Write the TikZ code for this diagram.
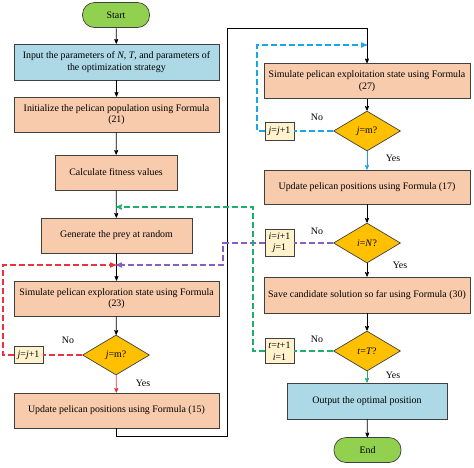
\documentclass[tikz,border=0pt]{standalone}
\usepackage{fontspec}
\setmainfont{Liberation Serif}
\usepackage{tikz}
\usetikzlibrary{arrows, shapes.geometric, positioning}

\definecolor{boxblue}{RGB}{173,216,230}
\definecolor{boxpeach}{RGB}{248,203,173}
\definecolor{boxgold}{RGB}{255,192,0}
\definecolor{boxgreen}{RGB}{146,208,80}
\definecolor{boxcream}{RGB}{255,242,204}
\definecolor{lred}{RGB}{235,50,65}
\definecolor{lgreen}{RGB}{30,175,110}
\definecolor{lpurple}{RGB}{135,95,195}
\definecolor{lcyan}{RGB}{25,165,230}

\begin{document}
\begin{tikzpicture}[->,>=stealth',x=1pt,y=-1pt,line width=0.7pt]
    \tikzstyle{every node}=[font=\fontsize{9.9}{11.5}\selectfont, text=black]
    \tikzstyle{term}=[shape=rectangle, rounded corners=12pt, fill=boxgreen, draw=black!75, minimum width=67pt, minimum height=25pt]
    \tikzstyle{proc}=[shape=rectangle, fill=boxpeach, draw=black!75, minimum height=35pt, align=center, inner sep=1pt]
    \tikzstyle{io}=[shape=rectangle, fill=boxblue, draw=black!75, minimum height=36pt, align=center, inner sep=1pt]
    \tikzstyle{cond}=[shape=diamond, fill=boxgold, draw=black!75, minimum width=67pt, minimum height=40pt, inner sep=0pt]
    \tikzstyle{counter}=[shape=rectangle, fill=boxcream, draw=black!75, minimum width=29pt, inner sep=1pt, align=center]
    \tikzstyle{lbl}=[draw=none, fill=none]
    \tikzstyle{dashloop}=[dash pattern=on 6pt off 3pt, line width=1.2pt]

    \useasboundingbox (0,0) rectangle (474,467);

    % left column
    \node[term]  (start) at (116,15) {Start};
    \node[io, minimum width=205pt]    (input) at (116.5,62) {Input the parameters of \textit{N}, \textit{T}, and parameters of\\the optimization strategy};
    \node[proc, minimum width=205pt]  (init) at (116.5,114.5) {Initialize the pelican population using Formula\\(21)};
    \node[proc, minimum width=122pt]  (fit) at (116,172.5) {Calculate fitness values};
    \node[proc, minimum width=151pt]  (prey) at (116.5,235.5) {Generate the prey at random};
    \node[proc, minimum width=205pt]  (explore) at (116.5,298.5) {Simulate pelican exploration state using Formula\\(23)};
    \node[cond]  (jm1) at (116,355) {\textit{j}=m?};
    \node[counter, minimum height=17pt] (jinc1) at (28.5,355) {\textit{j}=\textit{j}+1};
    \node[proc, minimum width=205pt]  (upd15) at (116.5,410.5) {Update pelican positions using Formula (15)};

    % right column
    \node[proc, minimum width=206pt]  (exploit) at (367,81) {Simulate pelican exploitation state using Formula\\(27)};
    \node[cond]  (jm2) at (367,131) {\textit{j}=m?};
    \node[counter, minimum height=18pt] (jinc2) at (279.5,131) {\textit{j}=\textit{j}+1};
    \node[proc, minimum width=206pt, minimum height=34pt]  (upd17) at (367,187) {Update pelican positions using Formula (17)};
    \node[cond]  (iN) at (367,243) {\textit{i}=\textit{N}?};
    \node[counter, minimum height=27pt] (iinc) at (279.5,243) {\textit{i}=\textit{i}+1\\\textit{j}=1};
    \node[proc, minimum width=206pt, minimum height=36pt]  (save) at (367,295) {Save candidate solution so far using Formula (30)};
    \node[cond]  (tT) at (367,351) {\textit{t}=\textit{T}?};
    \node[counter, minimum height=25pt] (tinc) at (279.5,351) {\textit{t}=\textit{t}+1\\\textit{i}=1};
    \node[io, minimum width=160pt]    (output) at (367,401) {Output the optimal position};
    \node[term]  (end) at (367.5,450) {End};

    % labels
    \node[lbl] (no1) at (68,340) {No};
    \node[lbl] (yes1) at (143,383) {Yes};
    \node[lbl] (no2) at (317,117) {No};
    \node[lbl] (yes2) at (393,158) {Yes};
    \node[lbl] (no3) at (317,231) {No};
    \node[lbl] (yes3) at (400,265) {Yes};
    \node[lbl] (no4) at (317,339) {No};
    \node[lbl] (yes4) at (393,375) {Yes};

    % bends
    \coordinate (jG) at (116,207);
    \coordinate (jR) at (116,265);
    \coordinate (jC) at (367,45);
    \coordinate (cR) at (3,265);
    \coordinate (cP) at (223,243);
    \coordinate (cG) at (253,207);
    \coordinate (cC) at (257,45);
    \coordinate (b1) at (227,436);
    \coordinate (b2) at (227,28);

    \path
    (start)   edge node{} (input)
    (input)   edge node{} (init)
    (init)    edge node{} (fit)
    (fit)     edge node{} (prey)
    (prey)    edge node{} (explore)
    (explore) edge node{} (jm1)
    (jm1)     edge[color=lred] node{} (upd15)
    (exploit) edge node{} (jm2)
    (jm2)     edge[color=lcyan] node{} (upd17)
    (upd17)   edge node{} (iN)
    (iN)      edge node{} (save)
    (save)    edge node{} (tT)
    (tT)      edge[color=lgreen] node{} (output)
    (output)  edge node{} (end)
    ;

    \draw (upd15.south) |- (b1) -- (b2) -| (exploit.north);

    % loops
    \draw[-, dashloop, color=lred] (jm1.west) -- (jinc1.east);
    \draw[dashloop, color=lred] (jinc1.west) -| (cR) -- (jR);
    \draw[-, dashloop, color=lcyan] (jm2.west) -- (jinc2.east);
    \draw[dashloop, color=lcyan] (jinc2.west) -| (cC) -- (jC);
    \draw[-, dashloop, color=lpurple] (iN.west) -- (iinc.east);
    \draw[dashloop, color=lpurple] (iinc.west) -- (cP) |- (jR);
    \draw[-, dashloop, color=lgreen] (tT.west) -- (tinc.east);
    \draw[dashloop, color=lgreen] (tinc.west) -| (cG) -- (jG);

\end{tikzpicture}
\end{document}
